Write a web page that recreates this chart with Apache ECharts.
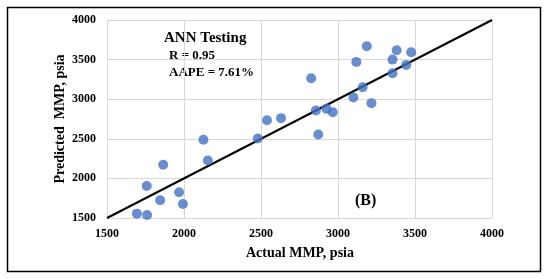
<!DOCTYPE html>
<html><head><meta charset="utf-8">
<script src="https://cdn.jsdelivr.net/npm/echarts@6/dist/echarts.min.js"></script>
<style>html,body{margin:0;padding:0;background:#fff}#c{width:550px;height:279px}</style>
</head><body><div id="c"></div>
<script>
const actualMMP = [1694,1760,1758,1845,1865,1968,1993,2126,2155,2479,2539,2630,2826,2856,2872,2925,2966,3100,3119,3160,3187,3217,3354,3354,3381,3443,3475];
const predictedMMP = [1555,1538,1903,1723,2172,1824,1676,2487,2227,2504,2735,2761,3265,2857,2555,2878,2836,3021,3471,3151,3668,2950,3500,3328,3618,3433,3592];
const fitLine = [[1500,1500],[4000,4000]];
const axisMin = 1500, axisMax = 4000, axisStep = 500;
const titleText = 'ANN Testing';
const statR = 'R = 0.95';
const statAAPE = 'AAPE = 7.61%';
const panelTag = '(B)';
const xName = 'Actual MMP, psia';
const yName = 'Predicted  MMP, psia';

const font = '"Liberation Serif","Times New Roman",serif';
const chart = echarts.init(document.getElementById('c'));
const gridColor = '#d9d9d9';
const labelStyle = {color: '#000', fontFamily: font, fontWeight: 'bold', fontSize: 12, formatter: v => String(v)};
const axisCommon = {
  type: 'value', min: axisMin, max: axisMax, interval: axisStep,
  axisLine: {show: true, lineStyle: {color: gridColor, width: 1}},
  axisTick: {show: false},
  splitLine: {show: true, lineStyle: {color: gridColor, width: 1}}
};
chart.setOption({
  animation: false,
  grid: {left: 107, right: 58, top: 20, bottom: 61, containLabel: false},
  xAxis: Object.assign({}, axisCommon, {axisLabel: Object.assign({}, labelStyle, {margin: 10})}),
  yAxis: Object.assign({}, axisCommon, {axisLabel: Object.assign({}, labelStyle, {margin: 11})}),
  series: [
    {type: 'line', data: fitLine, symbol: 'none', lineStyle: {color: '#000', width: 2}, z: 2},
    {type: 'scatter', data: actualMMP.map((v, i) => [v, predictedMMP[i]]), symbol: 'circle', symbolSize: 10,
     itemStyle: {color: '#4472C4'}, z: 3}
  ],
  graphic: [
    {type: 'rect', shape: {x: 7.5, y: 7.5, width: 533, height: 264}, style: {fill: 'none', stroke: '#000', lineWidth: 1.5}, silent: true},
    {type: 'text', x: 164, y: 31, style: {text: titleText, font: 'bold 15px ' + font, fill: '#000'}},
    {type: 'text', x: 169, y: 49, style: {text: statR, font: 'bold 13px ' + font, fill: '#000'}},
    {type: 'text', x: 169, y: 66, style: {text: statAAPE, font: 'bold 13px ' + font, fill: '#000'}},
    {type: 'text', x: 355, y: 193, style: {text: panelTag, font: 'bold 16px ' + font, fill: '#000'}},
    {type: 'text', x: 300, y: 253, style: {text: xName, font: 'bold 14px ' + font, fill: '#000', align: 'center', verticalAlign: 'middle'}},
    {type: 'text', x: 60, y: 119, rotation: Math.PI / 2, style: {text: yName, font: 'bold 14px ' + font, fill: '#000', align: 'center', verticalAlign: 'middle'}}
  ]
});
</script></body></html>
